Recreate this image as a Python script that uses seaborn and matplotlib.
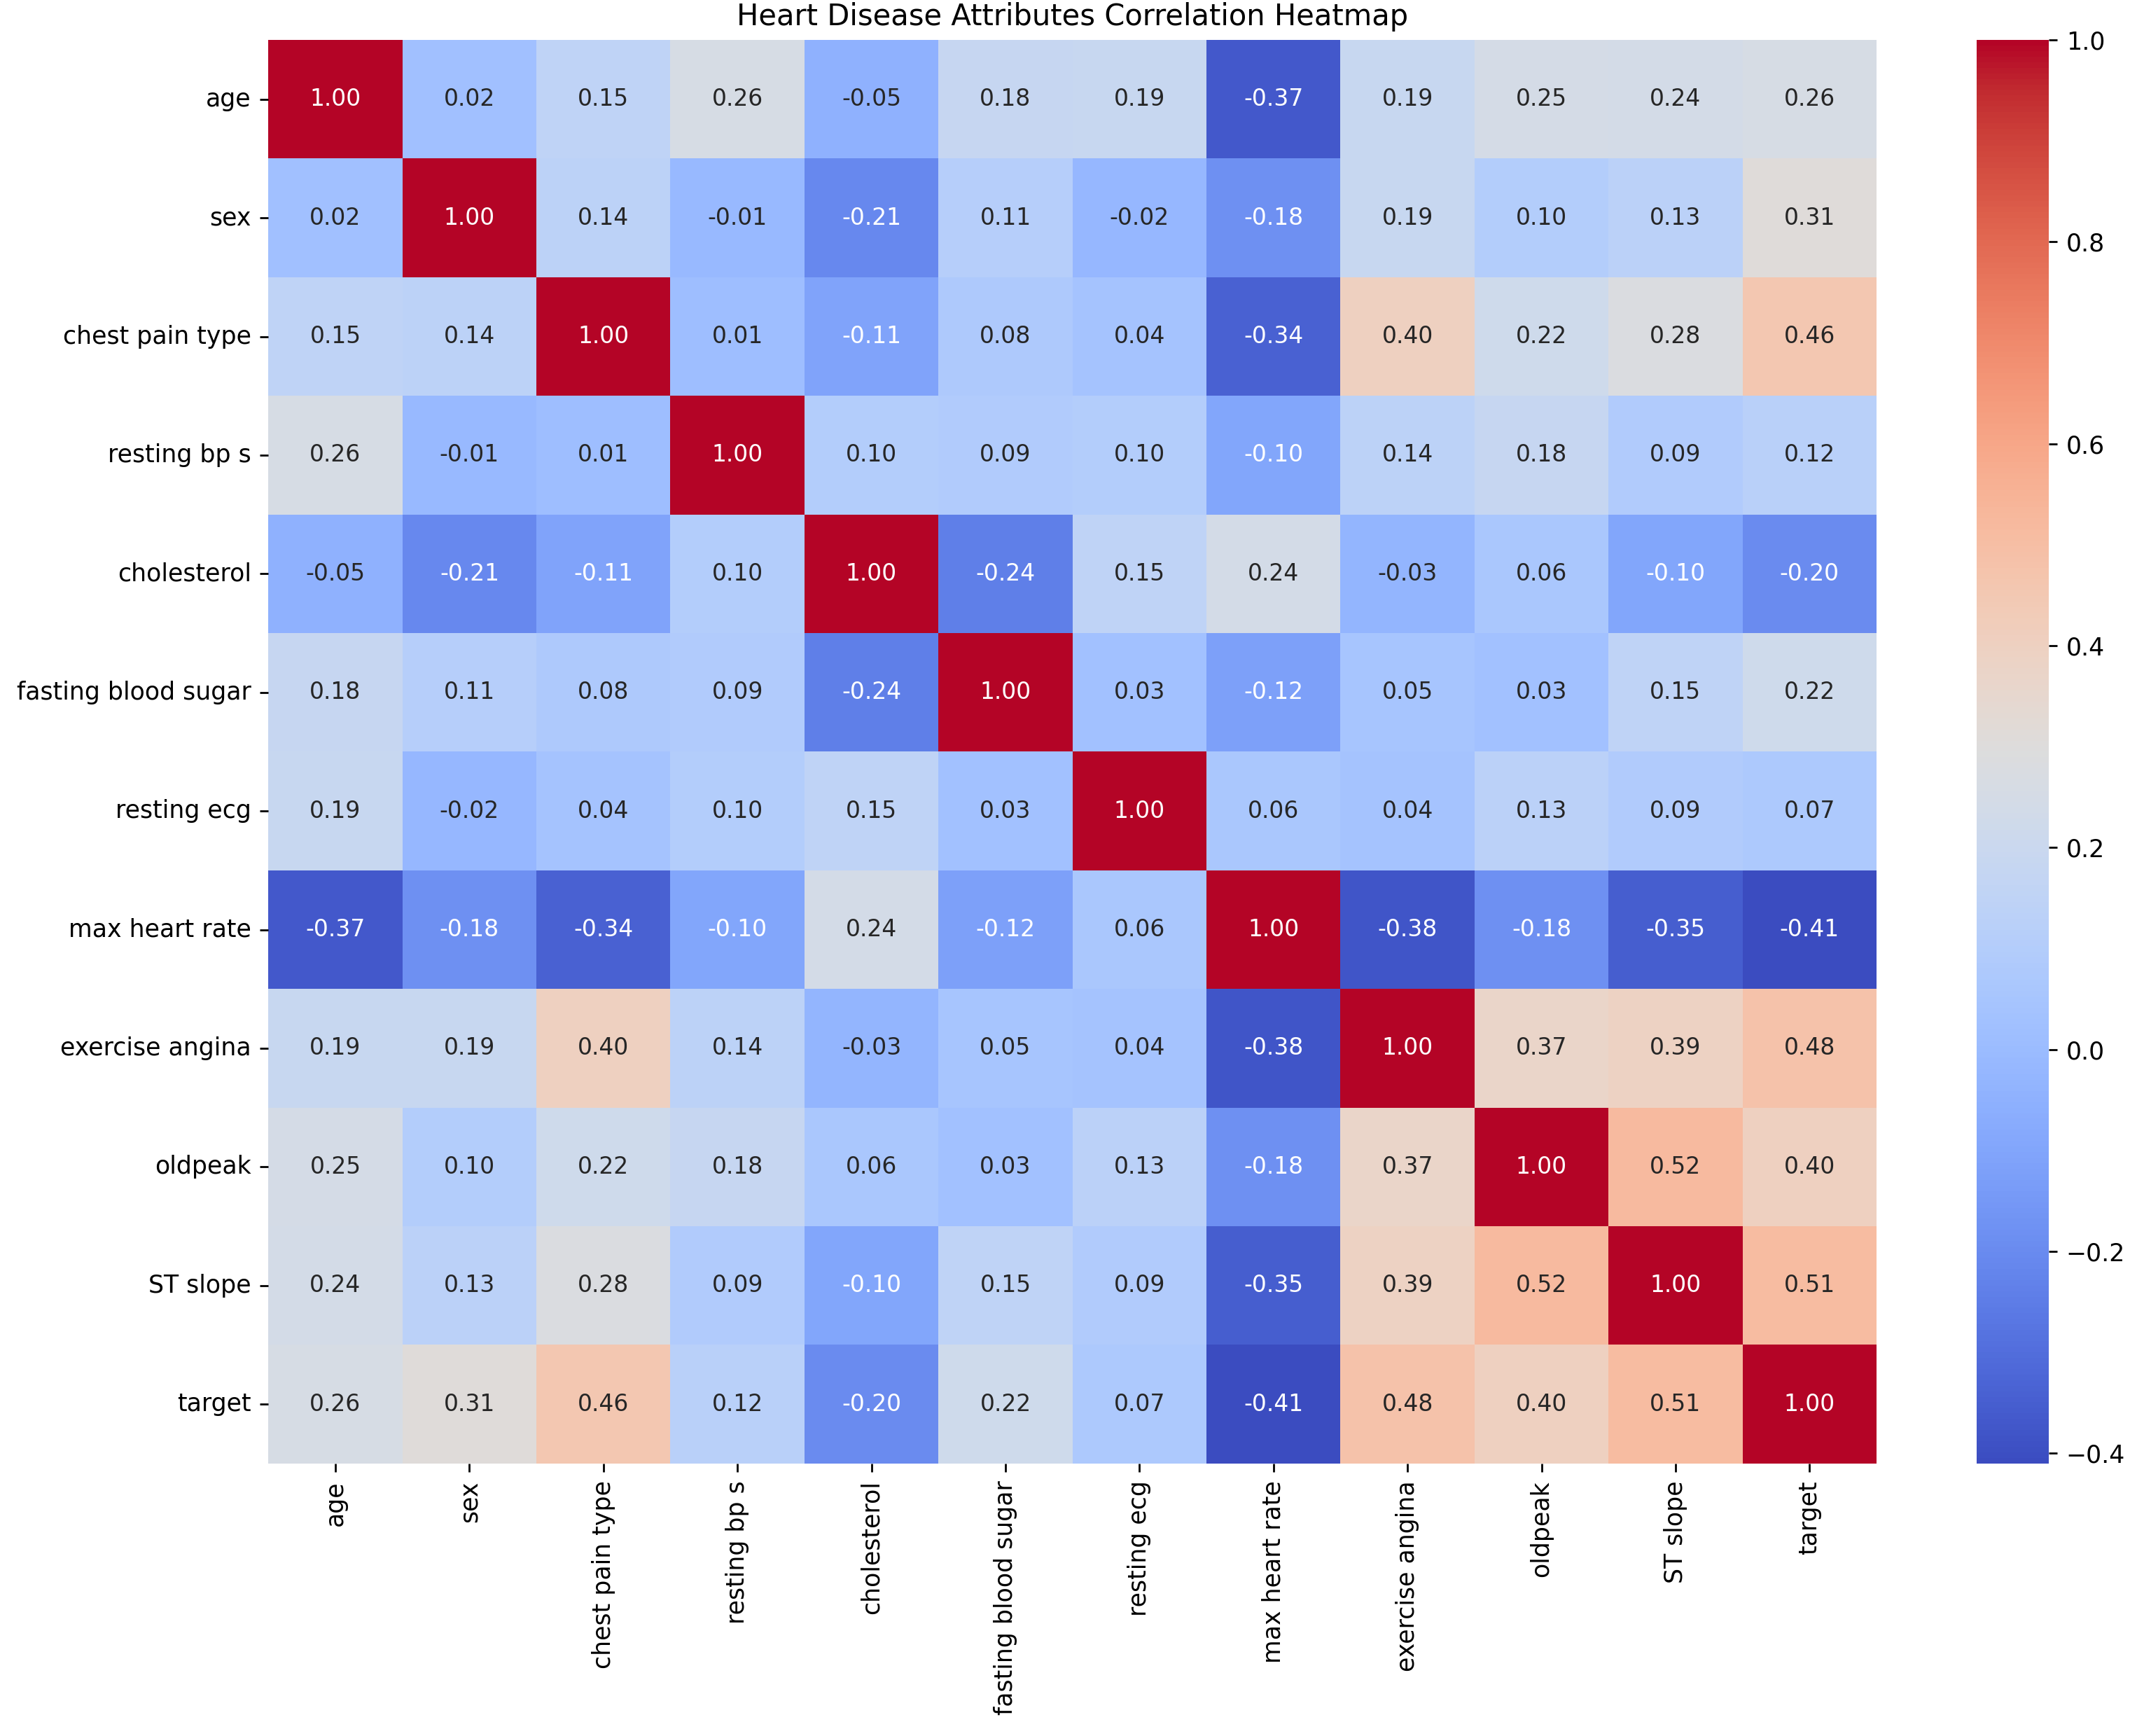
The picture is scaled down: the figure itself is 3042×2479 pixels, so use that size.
import matplotlib

matplotlib.use("Agg")

import matplotlib.pyplot as plt
import pandas as pd
import seaborn as sns


FEATURES = [
    "age", "sex", "chest pain type", "resting bp s", "cholesterol",
    "fasting blood sugar", "resting ecg", "max heart rate",
    "exercise angina", "oldpeak", "ST slope", "target",
]

# correlation values, one list per row
AGE = [1.00, 0.02, 0.15, 0.26, -0.05, 0.18, 0.19, -0.37, 0.19, 0.25, 0.24, 0.26]
SEX = [0.02, 1.00, 0.14, -0.01, -0.21, 0.11, -0.02, -0.18, 0.19, 0.10, 0.13, 0.31]
CHEST_PAIN = [0.15, 0.14, 1.00, 0.01, -0.11, 0.08, 0.04, -0.34, 0.40, 0.22, 0.28, 0.46]
RESTING_BP = [0.26, -0.01, 0.01, 1.00, 0.10, 0.09, 0.10, -0.10, 0.14, 0.18, 0.09, 0.12]
CHOLESTEROL = [-0.05, -0.21, -0.11, 0.10, 1.00, -0.24, 0.15, 0.24, -0.03, 0.06, -0.10, -0.20]
FASTING_BS = [0.18, 0.11, 0.08, 0.09, -0.24, 1.00, 0.03, -0.12, 0.05, 0.03, 0.15, 0.22]
RESTING_ECG = [0.19, -0.02, 0.04, 0.10, 0.15, 0.03, 1.00, 0.06, 0.04, 0.13, 0.09, 0.07]
MAX_HR = [-0.37, -0.18, -0.34, -0.10, 0.24, -0.12, 0.06, 1.00, -0.38, -0.18, -0.35, -0.41]
EX_ANGINA = [0.19, 0.19, 0.40, 0.14, -0.03, 0.05, 0.04, -0.38, 1.00, 0.37, 0.39, 0.48]
OLDPEAK = [0.25, 0.10, 0.22, 0.18, 0.06, 0.03, 0.13, -0.18, 0.37, 1.00, 0.52, 0.40]
ST_SLOPE = [0.24, 0.13, 0.28, 0.09, -0.10, 0.15, 0.09, -0.35, 0.39, 0.52, 1.00, 0.51]
TARGET = [0.26, 0.31, 0.46, 0.12, -0.20, 0.22, 0.07, -0.41, 0.48, 0.40, 0.51, 1.00]

ROWS = [AGE, SEX, CHEST_PAIN, RESTING_BP, CHOLESTEROL, FASTING_BS,
        RESTING_ECG, MAX_HR, EX_ANGINA, OLDPEAK, ST_SLOPE, TARGET]


def main() -> None:
    corr = pd.DataFrame(ROWS, index=FEATURES, columns=FEATURES)

    fig = plt.figure(figsize=(12.168, 9.916))
    ax = fig.add_axes([0.126, 0.157, 0.755, 0.820])
    cax = fig.add_axes([0.928, 0.157, 0.034, 0.820])

    sns.heatmap(corr, annot=True, fmt=".2f", cmap="coolwarm", ax=ax, cbar_ax=cax,
                annot_kws={"fontsize": 9.5})
    ax.set_title("Heart Disease Attributes Correlation Heatmap", fontsize=12)
    ax.tick_params(labelsize=10)
    cax.tick_params(labelsize=10)

    fig.savefig("out.png", dpi=250)
    plt.close(fig)


if __name__ == "__main__":
    main()
